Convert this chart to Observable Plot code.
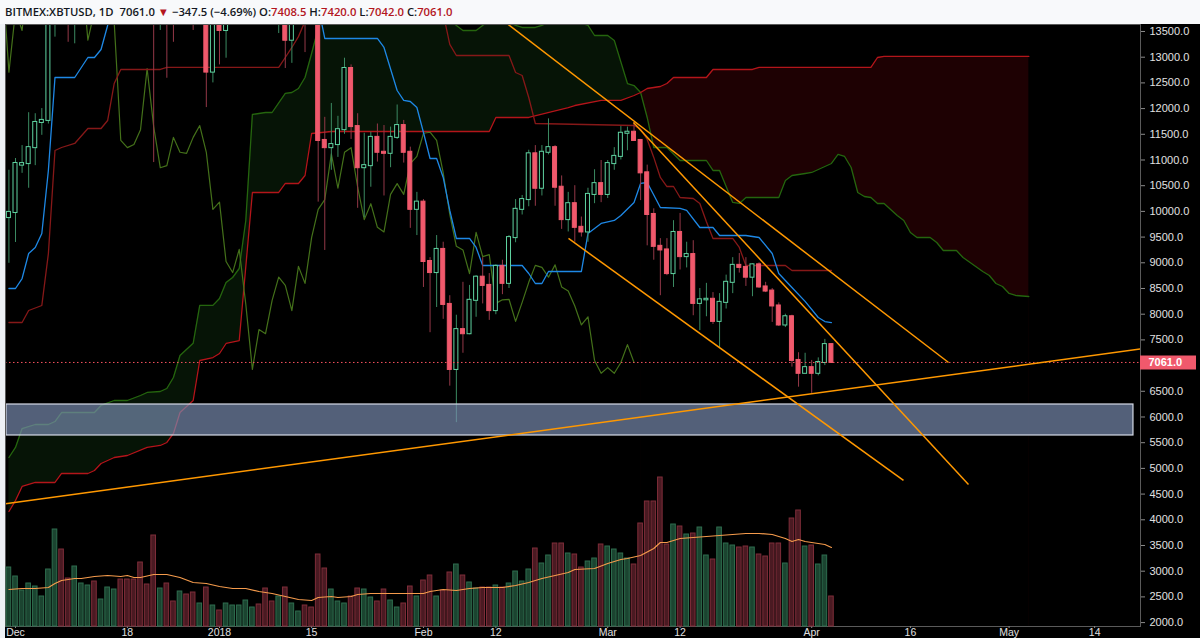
<!DOCTYPE html>
<html><head><meta charset="utf-8">
<script src="https://cdn.jsdelivr.net/npm/d3@7"></script>
<script src="https://cdn.jsdelivr.net/npm/@observablehq/plot@0.6"></script>
<style>
html,body{margin:0;padding:0;background:#eef1f5;width:1200px;height:638px;overflow:hidden;}
#title{height:24px;line-height:24px;padding-left:5px;font-family:"Open Sans",sans-serif;font-size:11.3px;font-weight:600;color:#131722;background:#f8f9fb;white-space:nowrap;}
#title .dn{color:#b3161e}
#chart{position:relative;margin-left:5px;width:1195px;height:614px;}
#chart svg{position:absolute;left:0;top:0;}
</style></head><body>
<div id="title"></div>
<div id="chart"></div>
<script>
// ---------- DATA (BITMEX:XBTUSD, 1D) ----------
const symbol = "BITMEX:XBTUSD, 1D";
const baseDate = Date.UTC(2017, 11, 1);   // day 0 = 2017-12-01
const firstCandleDay = -1;                  // first candle = 2017-11-30
// daily [open, high, low, close]
const candleOHLC = [
[9880,10800,8990,9980],[9978,11029,9395,10932],[10900,11280,10740,10930],[10930,11920,10450,11240],
[11240,11900,10890,11730],[11730,12000,11480,11770],[11770,14400,11700,13800],[13800,17100,13390,16800],
[16800,17300,14000,16200],[16200,16300,13290,14900],[14900,15700,13260,15100],[15100,17400,15000,16800],
[16800,17600,16300,17300],[17300,17400,15800,16300],[16300,16900,16000,16600],[16600,17900,16400,17700],
[17700,19500,17500,19300],[19300,19800,18900,19200],[19200,19400,18000,18900],[18900,19100,16800,17500],
[17500,17900,15400,16600],[16600,17300,14800,15600],[15600,15800,10950,13800],[13800,15500,13520,14400],
[14400,14500,12590,13900],[13900,14400,13290,13800],[13800,16200,13700,15900],[15900,16700,15000,15500],
[15500,15600,13520,14400],[14400,15300,14000,14600],[14600,14700,12020,12710],[12710,14300,12500,13900],
[13900,14000,12850,13520],[13520,15300,12980,14800],[14800,15500,14600,15100],[15100,15400,14100,15200],
[15200,17100,14800,16900],[16900,17200,16300,17100],[17100,17100,15800,16200],[16200,16300,13900,14900],
[14900,15400,14200,14400],[14400,14900,13460,14800],[14800,14900,12780,13330],[13330,14100,12880,13900],
[13900,14600,13800,14300],[14300,14400,13090,13700],[13700,14300,13650,13680],[13680,13700,10180,11380],
[11380,11830,9240,11240],[11240,12100,10800,11300],[11300,11850,11050,11590],[11590,12980,11500,12780],
[12780,12850,11400,11650],[11650,11900,10060,10850],[10850,11520,9880,10890],[10890,11540,10470,11440],
[11440,11700,10960,11150],[11150,11670,10300,11130],[11130,11640,10850,11440],[11440,12070,11400,11670],
[11670,11770,10940,11150],[11150,11250,9670,10040],[10040,10370,9530,10180],[10180,10230,8520,9025],
[9025,9100,7640,8810],[8810,9530,8130,9260],[9260,9400,7900,8190],[8190,8360,6600,6925],
[6925,7980,5890,7700],[7700,8620,7240,7620],[7620,8560,7600,8270],[8270,8750,7940,8720],
[8720,9100,8200,8560],[8560,8790,7880,8070],[8070,8960,7990,8930],[8930,9050,8380,8600],
[8600,9530,8500,9490],[9490,10230,9390,10040],[10040,10310,9930,10230],[10230,11190,10090,11120],
[11120,11280,10100,10450],[10450,11280,10300,11150],[11150,11800,11100,11240],[11240,11280,10100,10470],
[10470,10690,9650,9840],[9840,10370,9600,10150],[10150,10500,9400,9690],[9690,9890,9500,9600],
[9600,10450,9400,10330],[10330,10810,10150,10540],[10540,10990,10170,10330],[10330,10990,10250,10930],
[10930,11240,10800,11070],[11070,11650,11000,11520],[11520,11640,11180,11540],[11540,11730,11360,11380],
[11380,11400,10210,10750],[10750,10900,9330,9940],[9940,10050,9050,9320],[9320,9470,8360,9250],
[9250,9470,8750,8790],[8790,9820,8520,9590],[9590,9960,8860,9120],[9120,9400,8900,9160],
[9160,9430,7970,8210],[8210,8500,7680,8280],[8280,8600,7950,8290],[8290,8420,7800,7860],
[7860,8400,7330,8230],[8230,8760,8100,8620],[8620,9100,8400,8950],[8950,9180,8800,8910],
[8910,9100,8540,8720],[8720,8980,8340,8960],[8960,9000,8500,8530],[8530,8620,8420,8450],
[8450,8500,7840,8160],[8160,8220,7760,7790],[7790,8000,7740,7950],[7950,7980,6970,7100],
[7100,7250,6580,6850],[6850,7240,6850,6960],[6960,7100,6460,6850],[6850,7150,6800,7060],
[7060,7510,7000,7408.5],[7408.5,7420,7042,7061]
];
// daily volume (millions of contracts)
const volume = [
2360,2000,1440,1720,1600,1200,2280,3880,3080,1920,2400,1720,1640,1800,1080,1560,1480,1880,1880,1880,
2560,1680,3640,1520,1720,1000,1400,1280,1360,920,1560,840,640,920,840,840,1040,760,880,1520,
1000,1200,1560,920,600,840,760,2880,2320,1480,1000,920,1200,1520,1480,1160,1000,1480,1040,760,
920,1600,1200,1840,2040,1200,1440,2160,2480,2040,1760,1520,1560,1560,1640,1560,1720,2200,1800,2280,
3120,2520,2840,3320,3320,2920,2880,2360,2600,2720,3280,3200,3080,2920,2720,2480,4120,5000,5000,5960,
3280,4080,4000,3680,3720,3960,2840,2680,3960,3320,3240,3160,3200,3160,2880,2800,3320,3320,2520,4320,
4640,3200,3240,2480,2840,1200
];
// volume moving average [day, value]
const volumeMA = [[-1,1480],[1,1520],[3,1520],[5,1560],[6,1720],[7,1840],[9,1920],[10,1920],[12,2000],[14,2040],
[16,2000],[17,2040],[18,1960],[19,1960],[21,2080],[23,2080],[25,1960],[27,1760],[29,1720],[31,1600],[33,1520],
[35,1520],[37,1400],[39,1320],[41,1200],[43,1080],[45,1040],[46,1160],[48,1200],[49,1160],[51,1200],[52,1280],
[54,1320],[57,1320],[59,1320],[62,1320],[63,1400],[65,1480],[67,1440],[69,1520],[71,1560],[74,1560],[76,1640],
[78,1760],[80,1920],[82,2040],[84,2160],[85,2280],[88,2320],[90,2520],[92,2680],[93,2720],[95,2840],[97,3120],
[98,3360],[99,3360],[101,3520],[103,3560],[105,3600],[107,3640],[109,3680],[111,3720],[113,3720],[115,3680],
[117,3520],[118,3400],[119,3480],[120,3400],[122,3320],[123,3280],[124,3160]];
// Ichimoku lines [day, price]
const conversionLine = [[-1,8500],[0,8500],[1,8694],[2,9181],[3,9298],[4,9570],[5,10800],[6,12605],[9,12605],[11,12994],
[12,12994],[13,13150],[14,13617],[15,14500],[30,16500],[45,15000],[46,14000],[47,13364],[55,13364],[56,13189],
[58,12352],[59,12158],[60,12138],[61,12021],[62,11535],[63,11029],[64,11029],[65,10660],[66,10018],[67,9473],
[69,9473],[70,9298],[71,8947],[77,8947],[78,8792],[79,8597],[80,8597],[81,8831],[86,8831],[87,9570],[89,9765],
[91,9823],[92,9920],[94,10174],[95,10543],[96,10562],[98,10076],[101,10057],[102,10018],[104,9687],[106,9687],
[107,9531],[111,9531],[113,9492],[115,9181],[116,8792],[118,8519],[120,8250],[122,7935],[123,7857],[124,7838]];
const baseLine = [[-1,7838],[1,7838],[2,8072],[4,8169],[5,9181],[6,11185],[7,11243],[9,11321],[11,11613],[13,11613],
[14,11768],[15,12488],[16,12761],[22,12761],[23,12800],[40,12800],[41,12994],[42,13189],[43,13400],[44,13700],
[45,14000],[64,14000],[65,13850],[66,13250],[67,13033],[75,13033],[76,12702],[77,12644],[78,12216],[79,11710],
[94,11671],[95,11600],[96,11400],[97,11050],[98,10660],[99,10484],[100,10484],[101,10270],[103,10251],[104,10154],
[105,9800],[106,9473],[109,9473],[110,9298],[111,8947],[117,8947],[118,8850],[124,8850]];
const leadingSpanA = [[-1,5212],[0,5407],[1,5776],[3,5854],[5,5854],[6,5912],[7,6087],[12,6087],[13,6224],[15,6321],
[17,6321],[19,6418],[20,6477],[22,6496],[23,6554],[24,6768],[25,7196],[27,7433],[28,8172],[30,8172],[31,8306],
[32,8617],[33,8714],[34,8889],[35,9823],[36,11885],[38,11924],[39,11924],[41,12294],[42,12313],[43,12391],
[44,12605],[45,13072],[46,13558],[47,14000],[60,14500],[66,13750],[67,13617],[68,13519],[70,13519],[71,13617],
[73,13800],[76,13617],[77,13578],[79,13578],[80,13617],[83,13800],[87,13617],[88,13422],[90,13422],[91,13325],
[93,12488],[94,12449],[95,12313],[96,11827],[97,11243],[99,11243],[101,10990],[105,10990],[106,10796],[107,10796],
[109,10174],[110,10154],[111,10270],[116,10270],[117,10601],[118,10698],[120,10737],[121,10757],[123,10873],
[124,10932],[125,11107],[126,11068],[127,10854],[128,10368],[129,10290],[130,10270],[131,10154],[132,10154],
[134,9920],[135,9823],[136,9590],[137,9492],[139,9492],[140,9395],[141,9239],[143,9239],[144,9103],[147,8831],
[148,8753],[149,8597],[150,8539],[151,8403],[152,8364],[154,8344]];
const leadingSpanB = [[-1,4161],[0,4375],[1,4648],[3,4726],[6,4726],[7,4901],[11,4901],[12,4959],[13,5095],[15,5212],
[17,5251],[20,5407],[22,5446],[23,5504],[24,5679],[25,6087],[27,6321],[28,7099],[30,7157],[31,7235],[32,7430],
[34,7488],[36,10368],[40,10368],[41,10543],[43,10543],[44,10698],[45,11515],[48,11554],[72,11554],[73,11827],
[78,11827],[84,12021],[85,12060],[89,12158],[92,12158],[94,12255],[95,12313],[96,12391],[98,12430],[99,12488],
[100,12605],[105,12605],[106,12761],[112,12761],[113,12800],[130,12800],[131,12994],[132,13014],[154,13014]];
const cloudCrossDay = 95;   // span A and span B cross here
const laggingShift = 30;    // lagging span = close plotted 30 bars back
// drawn trendlines [day1, price1, day2, price2]
const trendSegments = [[-1.52,4313,170.97,7323],[74.5,13674,141.8,7060],[93.92,11729,144.83,4687],[84.04,9473,134.95,4765]];
// support zone
const zone = {day1: -1.37, day2: 169.9, low: 5640, high: 6243};
// axes
const xTickDays = [0,17,31,45,62,73,90,101,121,136,151,164];
const xTickLabels = ["Dec","18","2018","15","Feb","12","Mar","12","Apr","16","May","14"];
const yTicks = [2000,2500,3000,3500,4000,4500,5000,5500,6000,6500,7500,8000,8500,9000,9500,10000,10500,11000,11500,12000,12500,13000,13500];

// ---------- BUILD ----------
const day = d => new Date(baseDate + d * 864e5);
const candles = candleOHLC.map(([o,h,l,c], i) => ({date: day(firstCandleDay + i), o, h, l, c, up: c >= o, v: volume[i]}));
const lagging = candles.map((d, i) => [firstCandleDay + i - laggingShift, d.c]).filter(d => d[0] >= -2);
const last = candles[candles.length - 1], prev = candles[candles.length - 2];
const chg = last.c - prev.c, pct = chg / prev.c * 100;
const m = s => s.replace("-", "\u2212");
document.getElementById("title").innerHTML =
  `${symbol}&nbsp; ${last.c.toFixed(1)} <span class="dn">&#9660;</span> ${m(chg.toFixed(1))} (${m(pct.toFixed(2))}%) ` +
  `O:<span class="dn">${last.o.toFixed(1)}</span> H:<span class="dn">${last.h.toFixed(1)}</span> ` +
  `L:<span class="dn">${last.l.toFixed(1)}</span> C:<span class="dn">${last.c.toFixed(1)}</span>`;

const W = 1195, H = 614, MR = 60, MB = 12;
const xDomain = [day(-1.52), day(170.97)];
const RED = "#f0596c", GREEN = "#5fd3a1";
const px = d => day(d[0]), py = d => d[1];
const labelOf = new Map(xTickDays.map((d, i) => [+day(d), xTickLabels[i]]));
const clip = true;

const main = Plot.plot({
  width: W, height: H, marginLeft: 0, marginRight: MR, marginTop: 0, marginBottom: MB,
  style: {background: "#000", fontFamily: "Liberation Sans, Arial, sans-serif", fontSize: "11px"},
  x: {type: "utc", domain: xDomain},
  y: {domain: [1924, 13636]},
  color: {type: "identity"},
  marks: [
    Plot.areaY(leadingSpanA.filter(d => d[0] <= cloudCrossDay), {x: px, y1: 0, y2: py, fill: "#061406", clip}),
    Plot.areaY(leadingSpanB.filter(d => d[0] <= cloudCrossDay), {x: px, y1: 0, y2: py, fill: "#000", clip}),
    Plot.areaY(leadingSpanB.filter(d => d[0] >= cloudCrossDay), {x: px, y1: 0, y2: py, fill: "#1e0103", clip}),
    Plot.areaY(leadingSpanA.filter(d => d[0] >= cloudCrossDay), {x: px, y1: 0, y2: py, fill: "#000", clip}),
    Plot.line(leadingSpanA, {x: px, y: py, stroke: "#25650e", strokeWidth: 1.3, clip}),
    Plot.line(leadingSpanB, {x: px, y: py, stroke: "#b3151a", strokeWidth: 1.3, clip}),
    Plot.line(lagging, {x: px, y: py, stroke: "#44711a", strokeWidth: 1.2, clip}),
    Plot.line(baseLine, {x: px, y: py, stroke: "#861818", strokeWidth: 1.3, clip}),
    Plot.line(conversionLine, {x: px, y: py, stroke: "#1e88e5", strokeWidth: 1.3, clip}),
    Plot.ruleX(candles, {x: "date", y1: "l", y2: "h", stroke: d => d.up ? "#3b8a62" : "#943848", strokeWidth: 1, clip}),
    Plot.rect(candles, {x1: "date", x2: "date", y1: "o", y2: "c", insetLeft: -2, insetRight: -2, insetTop: -0.5, insetBottom: -0.5,
      fill: d => d.up ? "#000" : RED, stroke: d => d.up ? GREEN : RED, strokeWidth: 1, clip}),
    Plot.ruleY([last.c], {stroke: "#f7525f", strokeDasharray: "1.5,2.5", strokeWidth: 1}),
    Plot.rect([zone], {x1: d => day(d.day1), x2: d => day(d.day2), y1: "low", y2: "high",
      fill: "rgb(122,142,178)", fillOpacity: 0.68, stroke: "#d4dae6", strokeWidth: 1.2, clip}),
    Plot.link(trendSegments, {x1: s => day(s[0]), y1: s => s[1], x2: s => day(s[2]), y2: s => s[3], stroke: "#ff9800", strokeWidth: 1.5, clip}),
    Plot.frame({stroke: "#5a5a5a"}),
    Plot.axisX(xTickDays.map(day), {tickFormat: d => labelOf.get(+d), tickSize: 2, tickPadding: 0, stroke: "#8a8a8a", fill: "#e0e0e0", fontSize: 10.5, label: null}),
    Plot.axisY(yTicks, {anchor: "right", tickFormat: d => d.toFixed(1), tickSize: 4, tickPadding: 5, stroke: "#8a8a8a", fill: "#e0e0e0", fontSize: 11, label: null}),
    Plot.ruleY([last.c], {stroke: RED, strokeWidth: 14, insetLeft: W - MR, insetRight: -56}),
    Plot.text([last.c], {y: d => d, text: d => d.toFixed(1), frameAnchor: "right", dx: 8, textAnchor: "start", fill: "#fff", fontWeight: "bold", fontSize: 11})
  ]
});

const vol = Plot.plot({
  width: W, height: H, marginLeft: 0, marginRight: MR, marginTop: H - MB - 150, marginBottom: MB,
  style: {background: "transparent"},
  x: {type: "utc", domain: xDomain, axis: null},
  y: {domain: [0, 6000], axis: null},
  color: {type: "identity"},
  marks: [
    Plot.rect(candles, {x1: "date", x2: "date", y1: 0, y2: "v", insetLeft: -2.3, insetRight: -2.3,
      fill: d => d.up ? "#1b4430" : "#4a1a22", stroke: d => d.up ? "#2e6d4e" : "#7e2d39", strokeWidth: 1}),
    Plot.line(volumeMA, {x: px, y: py, stroke: "#f59b4c", strokeWidth: 1.2})
  ]
});

const chart = document.getElementById("chart");
chart.append(main, vol);
</script>
</body></html>
